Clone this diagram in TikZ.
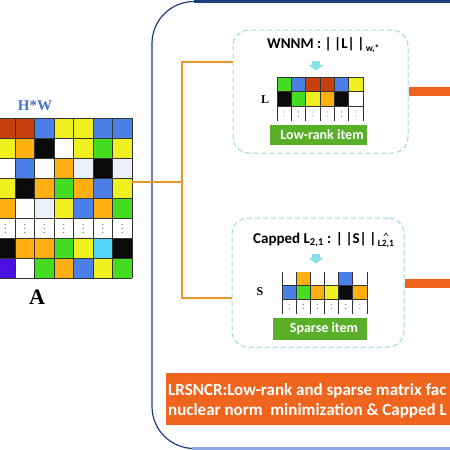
\documentclass[tikz,border=0pt]{standalone}
\usepackage{fontspec}
\setmainfont{Carlito}
\newfontfamily\serifb{Liberation Serif}
\usetikzlibrary{calc}
\definecolor{cR}{HTML}{C8400F}
\definecolor{cB}{HTML}{4A80E8}
\definecolor{cY}{HTML}{F0F020}
\definecolor{cO}{HTML}{FFB010}
\definecolor{cG}{HTML}{44DD22}
\definecolor{cK}{HTML}{0A0A0A}
\definecolor{cLt}{HTML}{EDF0F8}
\definecolor{cC}{HTML}{55D5F5}
\definecolor{cP}{HTML}{4A10E0}
\definecolor{cHW}{HTML}{4472D0}
\definecolor{dashc}{HTML}{96D7E6}
\definecolor{arrc}{HTML}{86E0E8}
\definecolor{connc}{HTML}{E8952C}
\definecolor{bannerc}{HTML}{F0651E}
\definecolor{navy}{HTML}{1F3D7A}
\definecolor{lblue}{HTML}{8EA9E8}
\definecolor{itemg}{HTML}{5AAF28}
\begin{document}
\begin{tikzpicture}[x=1pt,y=-1pt,
  gridln/.style={draw=black!80,line width=0.7pt},
  dotc/.style={fill=black!60},
  dbox/.style={draw=dashc,line width=1pt,dash pattern=on 5pt off 3pt,rounded corners=16pt,inner sep=0pt},
  conn/.style={draw=connc,line width=2pt},
  bar/.style={draw=bannerc,line width=9pt},
  itembox/.style={fill=itemg,inner sep=0pt},
  itemtxt/.style={text=white,font=\bfseries\fontsize{14}{16}\selectfont,inner sep=0pt},
  serlbl/.style={font=\serifb\bfseries\fontsize{12}{12}\selectfont},
  headtxt/.style={font=\bfseries\fontsize{15}{17}\selectfont,anchor=base west,inner sep=0pt},
  subtxt/.style={font=\bfseries\fontsize{9.5}{10}\selectfont,anchor=base west,inner sep=0pt},
  bantxt/.style={anchor=base west,text=white,font=\bfseries\fontsize{17}{19}\selectfont,inner sep=0pt},
  blockarrow/.style={fill=arrc,draw=none}]
\useasboundingbox (0,0) rectangle (450,450);
\clip (0,0) rectangle (450,450);

% big rounded frame
\draw[navy,line width=1.2pt,rounded corners=42pt] (152,1.5) rectangle (560,448.5);
\draw[navy,line width=3pt] (194,1) -- (460,1);
\draw[lblue,line width=3pt] (192,448.8) -- (460,448.8);

% matrix A
\foreach \rowc [count=\r from 0] in {{cR,cR,cB,cY,cY,cB,cB},{cY,cO,cK,white,cY,cG,cY},{white,cB,white,cO,cLt,cK,cLt},{cY,cK,cO,cG,cO,cB,cY},{cO,white,cLt,cY,cB,cO,cG},{white,white,white,white,white,white,white},{cK,cO,cO,cG,cY,cC,cK},{cP,white,cG,cO,cB,cY,cG}}{
  \foreach \cc [count=\k from 0] in \rowc {
    \fill[\cc] ({-4.5+19.5*\k},{118+20*\r}) rectangle ++(19.5,20);
  }
}
\foreach \k in {0,...,7} \draw[gridln] ({-4.5+19.5*\k},118) -- ++(0,160);
\foreach \r in {0,...,8} \draw[gridln] (-4.5,{118+20*\r}) -- (132,{118+20*\r});
\foreach \k in {0,...,6} \foreach \yy in {224.5,228.5,232.5} \fill[dotc] ({-4.5+19.5*\k+9.75},\yy) circle (0.6pt);
\coordinate (Aright) at (132,182);
\node[font=\serifb\bfseries\fontsize{15}{15}\selectfont,text=cHW] (hw) at (35,106) {H*W};
\node[font=\serifb\bfseries\fontsize{22}{22}\selectfont] (lblA) at (37,297) {A};

% dashed boxes
\node[dbox,minimum width=175pt,minimum height=123pt] (b1) at (320.5,91.5) {};
\node[dbox,minimum width=172pt,minimum height=129pt] (b2) at (318,282.5) {};

% connectors
\coordinate (j) at (182,182);
\draw[conn] (Aright) -- (j);
\draw[conn] (b1.west |- 0,62) -- (182,62) -- (182,298) -- (b2.west |- 0,298);
\draw[bar] (b1.east) -- (470,91.5);
\draw[bar] (b2.east |- 0,283) -- (470,283);

% box 1 content
\node[headtxt] (t1) at (267,48.3) {WNNM : |\,|L|\,|};
\node[subtxt] (t1s) at ($(t1.base east)+(1,3)$) {w,*};
\fill[blockarrow] (312,61) -- (320,61) -- (320,65) -- (323.5,65) -- (316,70.5) -- (308.5,65) -- (312,65) -- cycle;
\foreach \rowc [count=\r from 0] in {{cG,cB,cR,cR,cB,cY},{cK,cG,cY,cO,cK,white}}{
  \foreach \cc [count=\k from 0] in \rowc {
    \fill[\cc] ({277+14.333*\k},{77+14.5*\r}) rectangle ++(14.333,14.5);
  }
}
\foreach \k in {0,...,6} \draw[gridln] ({277+14.333*\k},77) -- ++(0,43.5);
\foreach \r in {0,1,2} \draw[gridln] (277,{77+14.5*\r}) -- (363,{77+14.5*\r});
\foreach \k in {0,...,5} \foreach \yy in {112,116} \fill[dotc] ({277+14.333*\k+7.17},\yy) circle (0.55pt);
\node[serlbl] (lblL) at (265,100) {L};
\node[itembox,minimum width=97pt,minimum height=20pt] (lr) at (318.5,135) {};
\node[itemtxt] (lrt) at (322,135) {Low-rank item};

% box 2 content
\node[headtxt] (t2) at (253,243) {Capped L\textsubscript{2,1} : |\,|S|\,|};
\node[subtxt] (t2s) at ($(t2.base east)+(1,3)$) {L2,1};
\draw[black,line width=0.6pt] ($(t2s.north)+(-2.2,-3.5)$) -- ($(t2s.north)+(0,-6.5)$) -- ($(t2s.north)+(2.2,-3.5)$);
\fill[blockarrow] (312,254) -- (320,254) -- (320,258) -- (323.5,258) -- (316,263.5) -- (308.5,258) -- (312,258) -- cycle;
\foreach \cc [count=\k from 0] in {cB,cG,cO,cY,cK,cO} {
  \fill[\cc] ({282+14.167*\k},285.5) rectangle ++(14.167,14);
}
\fill[cO] ({282+14.167*1},271.5) rectangle ++(14.167,14);
\fill[cB] ({282+14.167*4},271.5) rectangle ++(14.167,14);
\foreach \k in {0,...,6} \draw[gridln] ({282+14.167*\k},271.5) -- ++(0,42);
\foreach \r in {1,2} \draw[gridln] (282,{271.5+14*\r}) -- (367,{271.5+14*\r});
\foreach \k in {0,...,5} \foreach \yy in {304.5,308.5} \fill[dotc] ({282+14.167*\k+7.08},\yy) circle (0.55pt);
\node[serlbl] (lblS) at (260,292) {S};
\node[itembox,minimum width=94pt,minimum height=22pt] (sp) at (320,329) {};
\node[itemtxt] (spt) at (324,329) {Sparse item};

% banner
\fill[bannerc] (166,373) rectangle (470,425);
\node[bantxt] (ban1) at (168,395.5) {LRSNCR:Low-rank and sparse matrix fac};
\node[bantxt] (ban2) at (168,415) {nuclear norm\ \ minimization \& Capped L};
\end{tikzpicture}
\end{document}
